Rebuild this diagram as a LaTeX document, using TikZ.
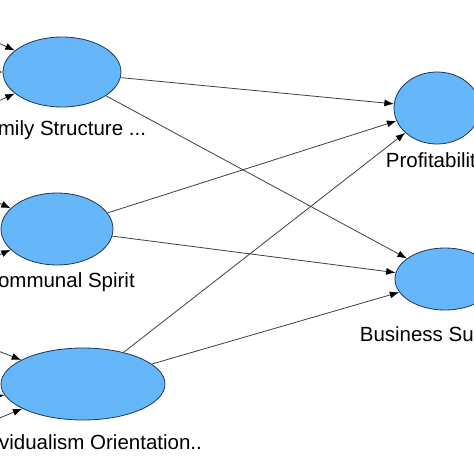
\documentclass[tikz,border=0pt]{standalone}
\usepackage{fontspec}
\setmainfont{Liberation Sans}
\usetikzlibrary{shapes.geometric,arrows.meta}
\definecolor{lvblue}{RGB}{102,183,250}
\definecolor{lvline}{RGB}{30,55,90}

\begin{document}
\begin{tikzpicture}[x=1pt,y=-1pt,
	latent/.style={ellipse,draw=lvline,fill=lvblue,line width=0.8pt,inner sep=0pt},
	lvname/.style={anchor=base,font=\fontsize{20.5}{24}\selectfont},
	pathline/.style={draw=black!75,line width=0.8pt,-{Latex[length=9.5pt,width=7pt,color=black]}}]
	
	\useasboundingbox (0,0) rectangle (474,474);
	\clip (0,0) rectangle (474,474);
	
	% latent variables
	\node[latent,minimum width=118pt,minimum height=70pt] (fam) at (62,72) {};
	\node[latent,minimum width=112pt,minimum height=72pt] (comm) at (57,229) {};
	\node[latent,minimum width=164pt,minimum height=72pt] (indiv) at (83,384) {};
	\node[latent,minimum width=86pt,minimum height=72pt] (prof) at (437,108) {};
	\node[latent,minimum width=100pt,minimum height=62pt] (bus) at (445,279) {};
	
	\node[lvname] (famname) at (60,135) {Family Structure ...};
	\node[lvname] (commname) at (59,287) {Communal Spirit};
	\node[lvname] (indivname) at (84,449) {Individualism Orientation..};
	\node[lvname] (profname) at (436,167) {Profitability};
	\node[lvname] (busname) at (443,341) {Business Success};
	
	% indicators (off the left edge)
	\foreach \n/\y in {1/30,2/72,3/114} \coordinate (fi\n) at (-30,\y);
	\foreach \n/\y in {1/190,2/268} \coordinate (ci\n) at (-30,\y);
	\foreach \n/\y in {1/340,2/400,3/430} \coordinate (ii\n) at (-30,\y);
	\foreach \n in {1,2,3} \draw[pathline] (fi\n) -- (fam);
	\foreach \n in {1,2} \draw[pathline] (ci\n) -- (comm);
	\foreach \n in {1,2,3} \draw[pathline] (ii\n) -- (indiv);
	
	% structural paths
	\foreach \a in {fam,comm,indiv} {
		\draw[pathline] (\a) -- (prof);
		\draw[pathline] (\a) -- (bus);
	}
	
\end{tikzpicture}
\end{document}
